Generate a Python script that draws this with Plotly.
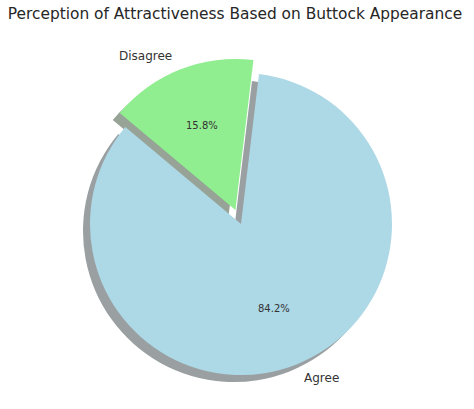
import math

import plotly.graph_objects as go

labels = ["Agree", "Disagree"]
values = [16, 3]
colors = ["#add8e6", "#90ee90"]
shadow_colors = ["rgb(154,160,162)", "rgb(150,163,150)"]
explode = [0.0, 0.1]

W, H = 474, 409
# pie geometry in pixels (centre, radius) and shadow offset
cx, cy, r = 241.0, 224.0, 151.0
sdx, sdy = -7.0, 7.0
start_angle = 140  # degrees, counterclockwise from 3 o'clock

max_pull = max(explode)
half_box = r * (1 + max_pull)


def domain(dx=0.0, dy=0.0):
    x0 = (cx + dx - half_box) / W
    x1 = (cx + dx + half_box) / W
    y0 = 1 - (cy + dy + half_box) / H
    y1 = 1 - (cy + dy - half_box) / H
    return dict(x=[x0, x1], y=[y0, y1])


# plotly goes clockwise from 12 o'clock; feed the slices in reverse
rev = slice(None, None, -1)
rotation = 90 - start_angle

fig = go.Figure()
fig.add_trace(
    go.Pie(
        labels=labels[rev],
        values=values[rev],
        sort=False,
        direction="clockwise",
        rotation=rotation,
        pull=explode[rev],
        marker=dict(colors=shadow_colors[rev], line=dict(width=0)),
        textinfo="none",
        hoverinfo="skip",
        showlegend=False,
        domain=domain(sdx, sdy),
    )
)
fig.add_trace(
    go.Pie(
        labels=labels[rev],
        values=values[rev],
        sort=False,
        direction="clockwise",
        rotation=rotation,
        pull=explode[rev],
        marker=dict(colors=colors[rev], line=dict(width=0)),
        textinfo="none",
        showlegend=False,
        domain=domain(),
    )
)

total = sum(values)
angle = start_angle
annotations = []
for lab, val, exp in zip(labels, values, explode):
    span = 360 * val / total
    mid = math.radians(angle + span / 2)
    angle += span
    ox = cx + exp * r * math.cos(mid)
    oy = cy - exp * r * math.sin(mid)
    lx = ox + 1.1 * r * math.cos(mid)
    ly = oy - 1.1 * r * math.sin(mid)
    px = ox + 0.6 * r * math.cos(mid)
    py = oy - 0.6 * r * math.sin(mid)
    annotations.append(
        dict(
            x=lx / W, y=1 - ly / H, xref="paper", yref="paper",
            text=lab, showarrow=False,
            xanchor="right" if math.cos(mid) < 0 else "left",
            yanchor="middle",
            font=dict(family="DejaVu Sans", size=12, color="#333333"),
        )
    )
    annotations.append(
        dict(
            x=px / W, y=1 - py / H, xref="paper", yref="paper",
            text=f"{100 * val / total:.1f}%", showarrow=False,
            xanchor="center", yanchor="middle",
            font=dict(family="DejaVu Sans", size=10, color="#333333"),
        )
    )

fig.update_layout(
    width=W,
    height=H,
    margin=dict(l=0, r=0, t=0, b=0),
    paper_bgcolor="white",
    plot_bgcolor="white",
    title=dict(
        text="Perception of Attractiveness Based on Buttock Appearance",
        x=235 / W, xanchor="center",
        y=1 - 14 / H, yanchor="middle", yref="container",
        font=dict(family="DejaVu Sans", size=15.4, color="#262626"),
    ),
    annotations=annotations,
)

# the page body has an 8px default margin; drop it so the figure fills the window
fig.write_html(
    "out.html",
    config={"displayModeBar": False},
    post_script="document.body.style.margin = '0';",
)
